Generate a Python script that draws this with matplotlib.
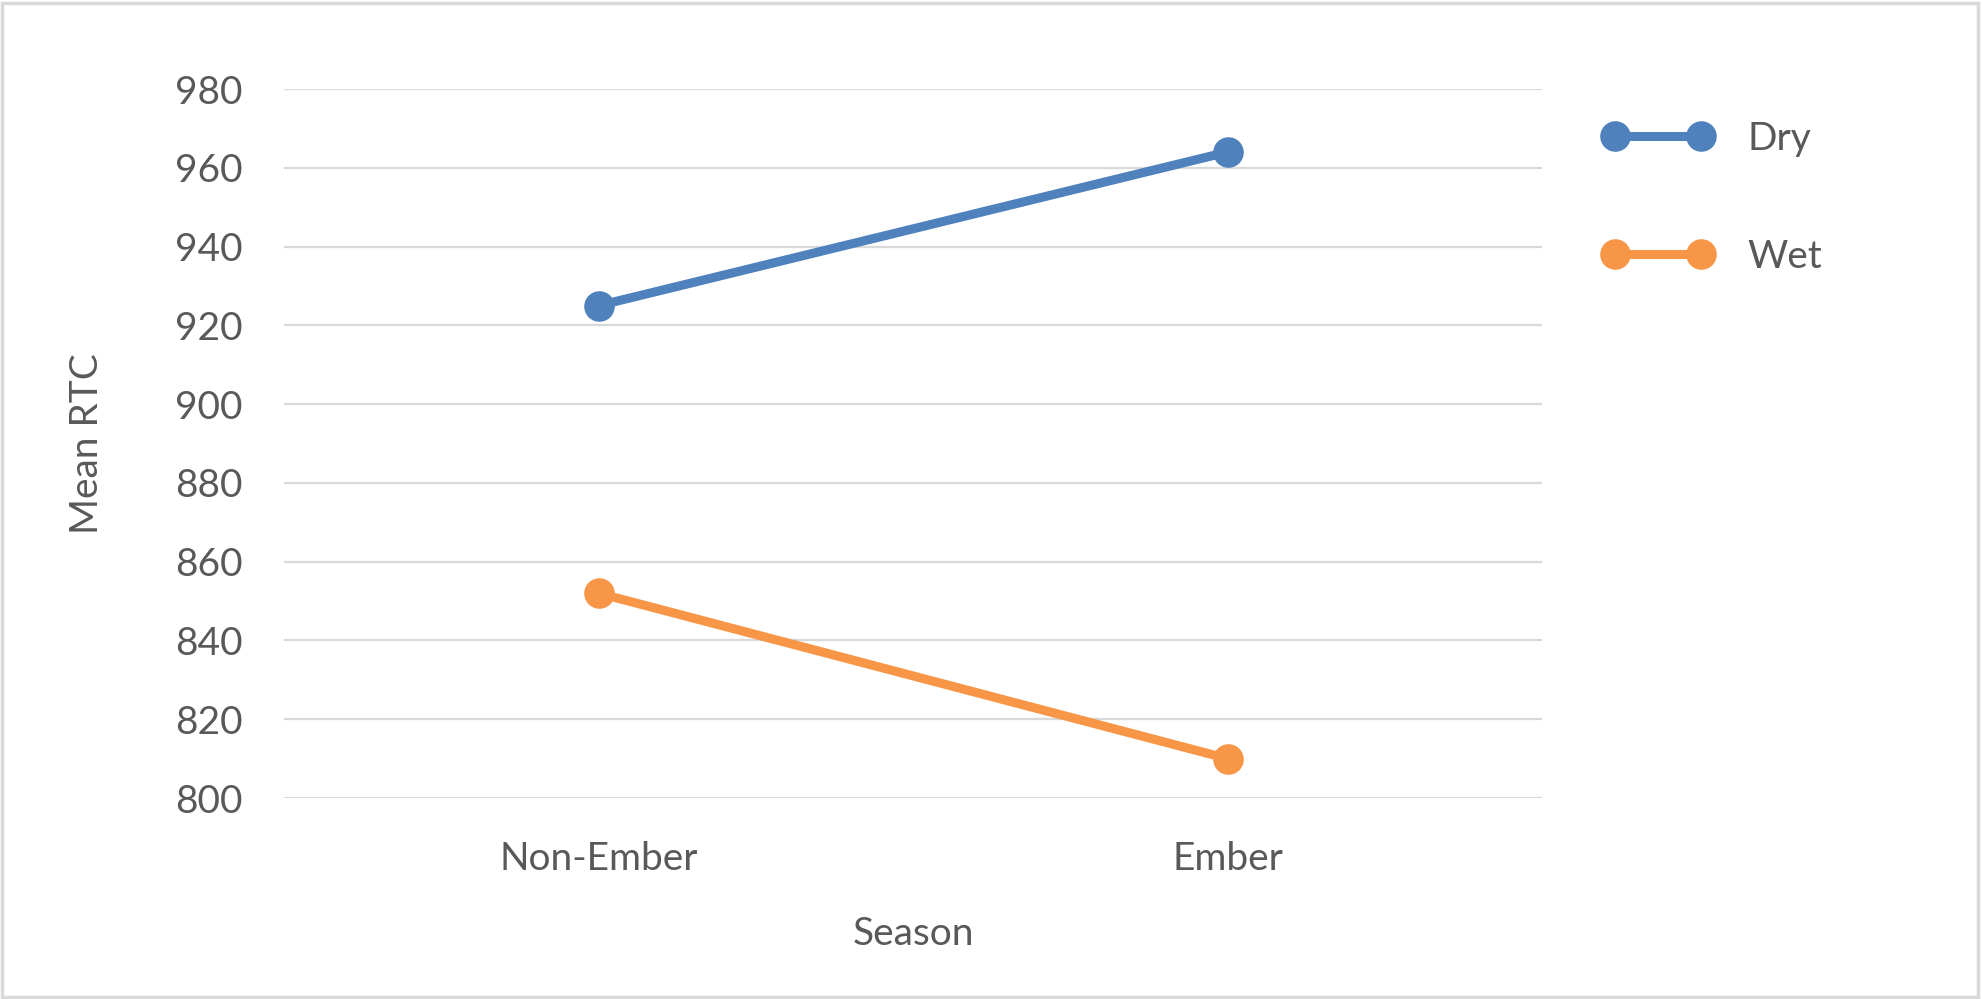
import matplotlib
matplotlib.use("Agg")
import matplotlib.pyplot as plt
from matplotlib.patches import Rectangle

# data
seasons = ["Non-Ember", "Ember"]
dry = [925, 964]
wet = [852, 810]
yticks = [800, 820, 840, 860, 880, 900, 920, 940, 960, 980]

plt.rcParams['font.family'] = ['Lato', 'DejaVu Sans']
txt = '#595959'
fs = 28

fig = plt.figure(figsize=(19.82, 9.99), dpi=100)
ax = fig.add_axes([0.1433, 0.2012, 0.778 - 0.1433, 0.9109 - 0.2012])

x = list(range(len(seasons)))
ax.plot(x, dry, color='#4F81BD', lw=6.5, marker='o', ms=21, label='Dry', solid_capstyle='round')
ax.plot(x, wet, color='#F79646', lw=6.5, marker='o', ms=21, label='Wet', solid_capstyle='round')

ax.set_xlim(-0.5, 1.5)
ax.set_ylim(800, 980)
ax.set_yticks(yticks)
ax.set_xticks(x)
ax.set_xticklabels(seasons)
ax.grid(axis='y', color='#d9d9d9', lw=1.6)
ax.set_axisbelow(True)
for s in ax.spines.values():
    s.set_visible(False)
ax.tick_params(length=0, labelsize=fs, colors=txt)
ax.tick_params(axis='y', pad=30)
ax.tick_params(axis='x', pad=31)

ax.set_xlabel('Season', fontsize=fs, color=txt, labelpad=28)
ax.set_ylabel('Mean RTC', fontsize=fs, color=txt, labelpad=50)

fig.legend(loc='upper left', bbox_to_anchor=(0.7915, 0.914), frameon=False,
           fontsize=fs, labelcolor=txt, handlelength=2.8, handletextpad=0.9,
           labelspacing=2.1, numpoints=2)

fig.patches.append(Rectangle((0.001, 0.002), 0.997, 0.995, transform=fig.transFigure,
                             fill=False, edgecolor='#d9d9d9', lw=2.5))

fig.savefig('out.png', dpi=100)
